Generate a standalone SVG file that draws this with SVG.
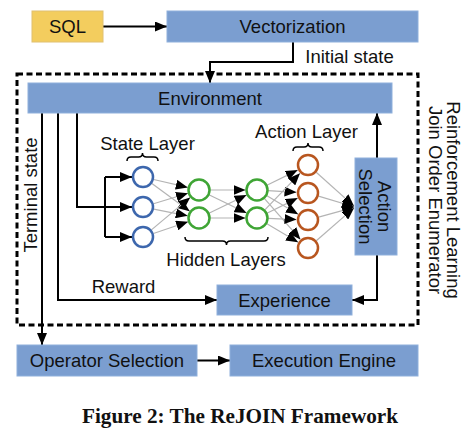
<svg xmlns="http://www.w3.org/2000/svg" width="474" height="437" viewBox="0 0 474 437">
<style>
.box{fill:#7b9ed0;stroke:#8fb0dc;stroke-width:1}
.sql{fill:#f3cd5e;stroke:#e0c070;stroke-width:1}
.t{font-family:"Liberation Sans",Arial,sans-serif;font-size:18.5px;fill:#111}
.c{text-anchor:middle}
.ln{fill:none;stroke:#000;stroke-width:2}
.nn{fill:none;stroke:#b4b4b4;stroke-width:1.2}
.br{fill:none;stroke:#000;stroke-width:1.5}
.nb{fill:#fff;stroke:#3d67ad;stroke-width:2.5}
.ng{fill:#fff;stroke:#3fa535;stroke-width:2.5}
.no{fill:#fff;stroke:#b8561f;stroke-width:2.5}
</style>
<defs>
<marker id="ah" markerUnits="userSpaceOnUse" markerWidth="12" markerHeight="10" viewBox="0 0 12 10" refX="12" refY="5" orient="auto">
<path d="M0,0 L12,5 L0,10 z" fill="#000"/>
</marker>
</defs>
<rect width="474" height="437" fill="#fff"/>
<rect x="17" y="74" width="401" height="251" fill="none" stroke="#000" stroke-width="3" stroke-dasharray="6 3.5"/>

<g id="connectors">
<path class="ln" d="M103,26.5 H167" marker-end="url(#ah)"/>
<path class="ln" d="M293,42 V62 H210 V83" marker-end="url(#ah)"/>
<path class="ln" d="M377,158 V113" marker-end="url(#ah)"/>
<path class="ln" d="M377,255 V300 H352" marker-end="url(#ah)"/>
<path class="ln" d="M58,113 V300 H217" marker-end="url(#ah)"/>
<path class="ln" d="M42,113 V345" marker-end="url(#ah)"/>
<path class="ln" d="M77,113 V207 H105 M105,177 V237"/>
<path class="ln" d="M105,177 H132" marker-end="url(#ah)"/>
<path class="ln" d="M105,207 H132" marker-end="url(#ah)"/>
<path class="ln" d="M105,237 H132" marker-end="url(#ah)"/>
<path class="ln" d="M197,360.5 H230" marker-end="url(#ah)"/>
<g marker-end="url(#ah)">
<path class="nn" d="M153.7,179.5 L187.8,187.4"/>
<path class="nn" d="M151.9,183.5 L189.7,211.2"/>
<path class="nn" d="M153.5,203.8 L188.0,193.3"/>
<path class="nn" d="M153.8,209.1 L187.7,215.8"/>
<path class="nn" d="M151.4,229.9 L190.2,197.4"/>
<path class="nn" d="M153.4,233.5 L188.1,221.7"/>
<path class="nn" d="M210,190 L245.5,190"/>
<path class="nn" d="M208.9,194.8 L246.6,213.0"/>
<path class="nn" d="M208.9,213.2 L246.6,195.0"/>
<path class="nn" d="M210,218 L245.5,218"/>
<path class="nn" d="M266.9,185.2 L297.7,170.1"/>
<path class="nn" d="M268,190.6 L296.5,192.3"/>
<path class="nn" d="M266.5,195.6 L298.1,214.2"/>
<path class="nn" d="M264.3,198.3 L300.4,239.4"/>
<path class="nn" d="M264.6,210.1 L300.0,173.3"/>
<path class="nn" d="M266.9,213.2 L297.7,198.1"/>
<path class="nn" d="M268,218.4 L296.5,219.6"/>
<path class="nn" d="M266.5,223.6 L298.1,242.2"/>
<path class="nn" d="M316.2,172.3 L354,206.1"/>
<path class="nn" d="M318.5,196.1 L354,206.7"/>
<path class="nn" d="M318.6,217.1 L354,207.3"/>
<path class="nn" d="M316.3,240.8 L354,207.9"/>
</g>
</g>

<g id="sql"><rect class="sql" x="32" y="11" width="71" height="31"/><text class="t c" x="67.5" y="33">SQL</text></g>
<g id="vectorization"><rect class="box" x="167" y="11" width="251" height="31"/><text class="t c" x="292.5" y="33">Vectorization</text></g>
<text class="t c" x="349.5" y="63">Initial state</text>
<g id="environment"><rect class="box" x="28" y="83" width="364" height="30"/><text class="t c" x="210" y="104.5">Environment</text></g>
<g id="experience"><rect class="box" x="217" y="285" width="135" height="30"/><text class="t c" x="284.5" y="306.5">Experience</text></g>
<g id="action-selection"><rect class="box" x="355" y="158" width="42" height="97"/>
<g transform="translate(375,206.5) rotate(90)"><text class="t c" x="0" y="-2.5">Action</text><text class="t c" x="0" y="16">Selection</text></g></g>
<g id="operator-selection"><rect class="box" x="17" y="345" width="180" height="31"/><text class="t c" x="107" y="367">Operator Selection</text></g>
<g id="execution-engine"><rect class="box" x="230" y="345" width="188" height="31"/><text class="t c" x="324" y="367">Execution Engine</text></g>

<text class="t c" transform="translate(30,195) rotate(-90)" x="0" y="6.5">Terminal state</text>
<g transform="translate(444,200) rotate(90)"><text class="t c" x="0" y="-2.5">Reinforcement Learning</text><text class="t c" x="0" y="15.5">Join Order Enumerator</text></g>
<text class="t c" x="123.5" y="293">Reward</text>

<g id="state-layer">
<text class="t c" x="147.5" y="150">State Layer</text>
<path class="br" d="M127,161 Q127,157 131,157 L138.5,157 Q142.5,157 142.5,153 Q142.5,157 146.5,157 L154,157 Q158,157 158,161"/>
<circle class="nb" cx="143" cy="177" r="10"/>
<circle class="nb" cx="143" cy="207" r="10"/>
<circle class="nb" cx="143" cy="237" r="10"/>
</g>
<g id="hidden-layers">
<circle class="ng" cx="199" cy="190" r="10.5"/>
<circle class="ng" cx="199" cy="218" r="10.5"/>
<circle class="ng" cx="257" cy="190" r="10.5"/>
<circle class="ng" cx="257" cy="218" r="10.5"/>
<path class="br" d="M185,237 Q185,241 189,241 L222.5,241 Q226.5,241 226.5,245 Q226.5,241 230.5,241 L264,241 Q268,241 268,237"/>
<text class="t c" x="226" y="266">Hidden Layers</text>
</g>
<g id="action-layer">
<text class="t c" x="306.5" y="138">Action Layer</text>
<path class="br" d="M293,151 Q293,147 297,147 L304,147 Q308,147 308,143 Q308,147 312,147 L319,147 Q323,147 323,151"/>
<circle class="no" cx="308" cy="165" r="10"/>
<circle class="no" cx="308" cy="193" r="10"/>
<circle class="no" cx="308" cy="220" r="10"/>
<circle class="no" cx="308" cy="248" r="10"/>
</g>

<text x="82" y="423" textLength="316" lengthAdjust="spacingAndGlyphs" font-family="Liberation Serif, Times New Roman, serif" font-weight="bold" font-size="21" fill="#111">Figure 2: The ReJOIN Framework</text>
</svg>
